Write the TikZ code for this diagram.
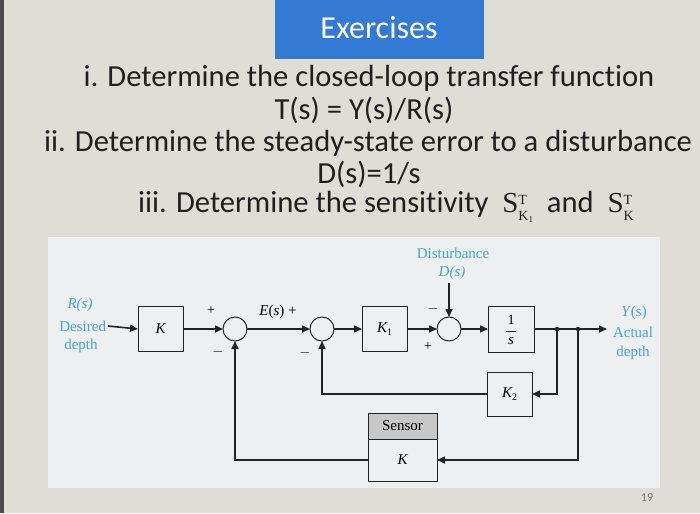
\documentclass[tikz,border=0pt]{standalone}
\usepackage{fontspec}
\setmainfont{Carlito}[Ligatures={NoCommon}]
\newfontfamily\tms{Liberation Serif}
\usetikzlibrary{arrows.meta}
\definecolor{bgc}{RGB}{222,222,214}
\definecolor{panelc}{RGB}{238,239,240}
\definecolor{bluec}{RGB}{50,122,212}
\definecolor{cyanc}{RGB}{70,165,205}
\definecolor{hdrc}{RGB}{200,200,200}
\definecolor{linec}{RGB}{35,35,35}
\newcommand{\sensS}[1]{{\tms\fontsize{29}{29}\selectfont S\rlap{\raisebox{0.55ex}{\fontsize{14}{14}\selectfont T}}\raisebox{-0.65ex}{\fontsize{14}{14}\selectfont #1}}}
\begin{document}
\begin{tikzpicture}[x=1pt,y=-1pt,
  every node/.style={inner sep=0pt,outer sep=0pt},
  line/.style={draw=linec,line width=1.6pt},
  arr/.style={line,-{Triangle[length=8pt,width=7pt]}},
  blockbox/.style={draw=linec,line width=0.8pt,fill=panelc,minimum width=45pt,minimum height=45pt,font=\tms\itshape\fontsize{15}{15}\selectfont},
  sumnode/.style={circle,draw=linec,line width=1pt,fill=panelc,minimum size=24pt},
  dot/.style={circle,fill=linec,minimum size=4.5pt},
  sgn/.style={font=\tms\fontsize{14}{14}\selectfont},
  lbl/.style={font=\tms\fontsize{15}{16}\selectfont},
  clbl/.style={lbl,text=cyanc},
  bodytext/.style={anchor=base,font=\fontsize{30.6}{31}\selectfont,text=black!88}
]
\useasboundingbox (0,0) rectangle (700,513);
\fill[bgc] (0,0) rectangle (700,513);
\fill[black!70] (0,0) rectangle (4,513);
\fill[panelc] (48,237) rectangle (660,488);
% title
\node[fill=bluec,minimum width=209pt,minimum height=59pt,anchor=north] (title) at (379.5,0) {};
\node[anchor=base,text=white,font=\fontsize{32}{32}\selectfont] (titletxt) at (379,39) {Exercises};
% questions
\node[bodytext] (q1) at (369,87) {i. Determine the closed-loop transfer function};
\node[bodytext] (q1b) at (364,120) {T(s) = Y(s)/R(s)};
\node[bodytext] (q2) at (368,151) {ii. Determine the steady-state error to a disturbance};
\node[bodytext] (q2b) at (369,183) {D(s)=1/s};
\node[bodytext] (q3) at (386,212) {iii. Determine the sensitivity\ \ \sensS{K\raisebox{-0.35ex}{\fontsize{9}{9}\selectfont 1}}\ \ and\ \ \sensS{K}};
% diagram labels
\node[clbl,font=\tms\itshape\fontsize{15}{16}\selectfont] (rs) at (80,305) {R(s)};
\node[clbl,anchor=east] (des) at (106,326) {Desired};
\node[clbl] (dep) at (81,346) {depth};
\node[clbl] (dist) at (453,253) {Disturbance};
\node[clbl,font=\tms\itshape\fontsize{15}{16}\selectfont] (ds) at (452,273) {D(s)};
\node[clbl] (ys) at (634,313) {\textit{Y}(s)};
\node[clbl] (act) at (633,332) {Actual};
\node[clbl] (dep2) at (633,353) {depth};
\node[text=black!55,font=\fontsize{12}{12}\selectfont] (pg) at (647,498) {19};
% blocks
\node[blockbox] (kb) at (160.5,329) {K};
\node[sumnode] (s1) at (235,329) {};
\node[sumnode] (s2) at (322,329) {};
\node[blockbox] (k1) at (384.5,329) {K\raisebox{-0.4ex}{\fontsize{10}{10}\selectfont\upshape 1}};
\node[sumnode] (s3) at (449,329) {};
\node[blockbox,minimum width=46pt,minimum height=46pt] (ints) at (511,329) {};
\node[font=\tms\fontsize{14}{14}\selectfont] (one) at (511,320) {1};
\node[font=\tms\itshape\fontsize{15}{15}\selectfont] (ess) at (511,341) {s};
\draw[linec,line width=0.7pt] (506,331) -- (516,331);
\node[blockbox,minimum height=44pt] (k2) at (509.5,394) {K\raisebox{-0.4ex}{\fontsize{10}{10}\selectfont\upshape 2}};
\node[draw=linec,line width=0.8pt,fill=hdrc,minimum width=69pt,minimum height=26pt,anchor=north west,font=\tms\fontsize{15}{15}\selectfont] (sh) at (368,413) {Sensor};
\node[blockbox,minimum width=69pt,minimum height=42pt,anchor=north west] (sk) at (368,439) {K};
% signs
\node[sgn] (p1) at (211,311) {+};
\node[sgn] (m1) at (218,352) {$-$};
\node[lbl] (es) at (278,312) {\textit{E}(\textit{s}) +};
\node[sgn] (m2) at (305,353) {$-$};
\node[sgn] (m3) at (433,309) {$-$};
\node[sgn] (p3) at (428,347) {+};
% coordinates
\coordinate (d1) at (557,329);
\coordinate (d2) at (578,329);
\coordinate (out) at (607,329);
\coordinate (dtop) at (449,283);
\node[dot] (dd1) at (d1) {};
\node[dot] (dd2) at (d2) {};
% forward path
\draw[arr] (des.east) ++(2,0) coordinate (rin) -- (kb.west);
\draw[arr] (kb.east) -- (s1.west);
\draw[arr] (s1.east) -- (s2.west);
\draw[arr] (s2.east) -- (k1.west);
\draw[arr] (k1.east) -- (s3.west);
\draw[arr] (dtop) -- (s3.north);
\draw[arr] (s3.east) -- (ints.west);
\draw[arr] (ints.east) -- (out);
% inner loop
\draw[arr] (d1) |- (k2.east);
\draw[arr] (k2.west) -| (s2.south);
% outer loop
\draw[arr] (d2) |- (sk.east);
\draw[arr] (sk.west) -| (s1.south);
\end{tikzpicture}
\end{document}
